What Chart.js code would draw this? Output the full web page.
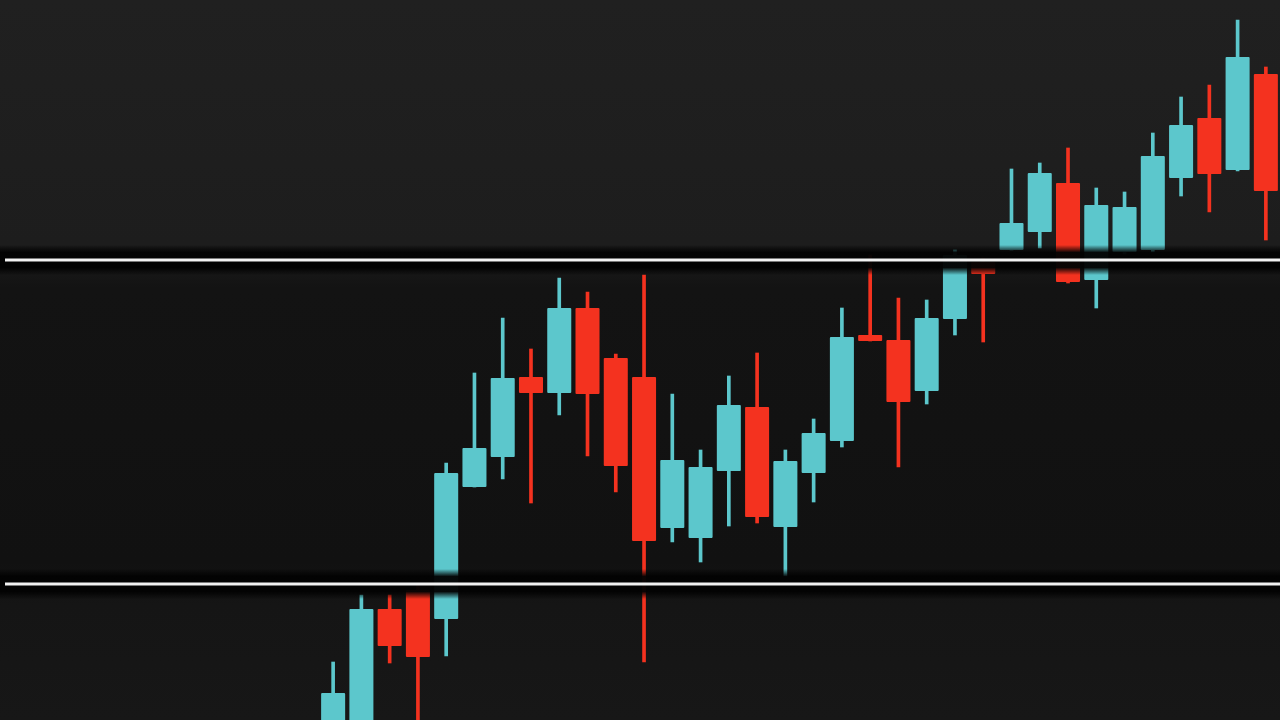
<!DOCTYPE html>
<html lang="en">
<head>
    <meta charset="UTF-8">
    <title>Candles</title>
    <style>
        html, body {
            margin: 0;
            padding: 0;
            width: 1280px;
            height: 720px;
            overflow: hidden;
            background: linear-gradient(to bottom, #202020 0%, #1d1d1d 34%, #131313 40%, #111111 78%, #151515 84%, #171717 100%);
        }
        canvas {
            display: block;
        }
    </style>
</head>
<body>
    <canvas id="chart" width="1280" height="720"></canvas>

    <script src="https://cdn.jsdelivr.net/npm/chart.js"></script>
    <script>
        // one label per candle (session number)
        const sessions = [];
        for (let i = 1; i <= 34; i++) sessions.push('S' + i);

        // price readings (higher = further up the picture)
        const opens  = [-15, -5, 111, 130, 101, 233, 263, 343, 327, 412, 362, 343, 192, 182, 249, 313, 193, 247, 279, 385, 380, 329, 401, 458, 470, 488, 537, 440, 468, 470, 542, 602, 550, 646];
        const highs  = [58, 125, 125, 135, 257, 347, 402, 371, 442, 428, 366, 445, 326, 270, 344, 367, 270, 301, 412, 465, 422, 420, 470, 462, 551, 557, 572, 532, 528, 587, 623, 635, 700, 653];
        const lows   = [-25, -20, 57, -5, 64, 233, 241, 217, 305, 264, 228, 58, 178, 158, 194, 197, 144, 218, 273, 379, 253, 316, 385, 378, 470, 472, 437, 412, 466, 468, 524, 508, 549, 480];
        const closes = [27, 111, 74, 63, 247, 272, 342, 327, 412, 326, 254, 179, 260, 253, 315, 203, 259, 287, 383, 379, 318, 402, 465, 446, 497, 547, 438, 515, 513, 564, 595, 546, 663, 529];

        // the two marked levels (white lines with dark bands)
        const levels = [460, 136];

        const upColor = '#5cc7cc';
        const downColor = '#f4321f';

        const bodies = opens.map((o, i) => [o, closes[i]]);
        const wicks = lows.map((l, i) => [l, highs[i]]);
        const colors = opens.map((o, i) => closes[i] >= o ? upColor : downColor);

        const levelBands = {
            id: 'levelBands',
            afterDatasetsDraw(chart) {
                const ctx = chart.ctx;
                const y = chart.scales.y;
                ctx.save();
                levels.forEach(lv => {
                    const py = y.getPixelForValue(lv);
                    const g = ctx.createLinearGradient(0, py - 15, 0, py + 15);
                    g.addColorStop(0, 'rgba(0,0,0,0)');
                    g.addColorStop(0.25, 'rgba(3,3,3,0.97)');
                    g.addColorStop(0.75, 'rgba(3,3,3,0.97)');
                    g.addColorStop(1, 'rgba(0,0,0,0)');
                    ctx.fillStyle = g;
                    ctx.fillRect(0, py - 15, chart.width, 30);

                    ctx.strokeStyle = '#f2f2f2';
                    ctx.lineWidth = 3;
                    ctx.beginPath();
                    ctx.moveTo(5, py);
                    ctx.lineTo(chart.width, py);
                    ctx.stroke();
                });
                ctx.restore();
            }
        };

        new Chart(document.getElementById('chart').getContext('2d'), {
            type: 'bar',
            data: {
                labels: sessions,
                datasets: [
                    {
                        label: 'wick',
                        data: wicks,
                        backgroundColor: colors,
                        barThickness: 3,
                        grouped: false,
                        order: 2
                    },
                    {
                        label: 'body',
                        data: bodies,
                        backgroundColor: colors,
                        borderRadius: 1,
                        borderSkipped: false,
                        categoryPercentage: 1,
                        barPercentage: 0.85,
                        grouped: false,
                        order: 1
                    }
                ]
            },
            options: {
                responsive: false,
                animation: false,
                layout: { padding: { left: 319, right: 0, top: 0, bottom: 0 } },
                plugins: {
                    legend: { display: false },
                    tooltip: { enabled: false }
                },
                scales: {
                    x: { display: false },
                    y: { display: false, min: 0, max: 720 }
                }
            },
            plugins: [levelBands]
        });
    </script>
</body>
</html>
